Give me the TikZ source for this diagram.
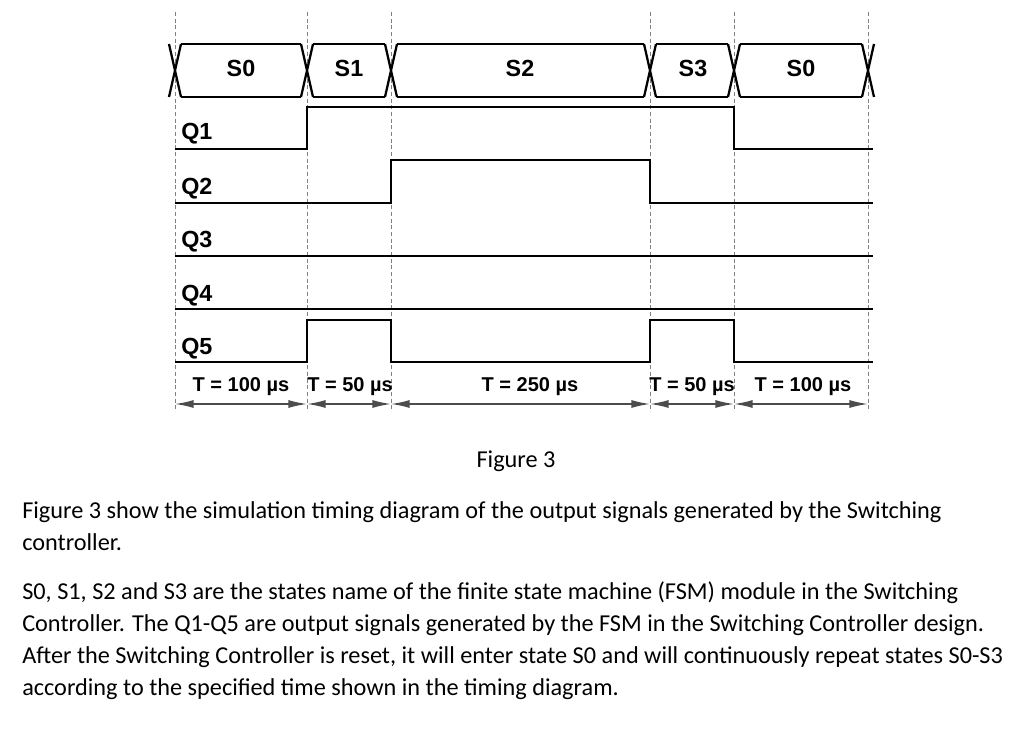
\documentclass[tikz,border=0pt]{standalone}
\usepackage{fontspec}
\setmainfont{Carlito}
\newfontfamily\arialf{Liberation Sans}
\usetikzlibrary{arrows.meta}
\begin{document}
\begin{tikzpicture}[x=0.75pt,y=-0.75pt,
  sig/.style={line width=1.9pt},
  grid/.style={dashed,gray,line width=0.4pt,dash pattern=on 3pt off 2pt},
  lbl/.style={font=\arialf\bfseries\fontsize{17.5}{19}\selectfont,inner sep=0},
  tlbl/.style={font=\arialf\bfseries\fontsize{15}{17}\selectfont,inner sep=0},
  dim/.style={black!70,line width=1.1pt,{Latex[length=14pt,width=6pt]}-{Latex[length=14pt,width=6pt]}},
  body/.style={font=\fontsize{18.2}{21}\selectfont,inner sep=0,anchor=base west}]
\useasboundingbox (0,0) rectangle (1021,734);
% grid
\foreach \b in {175,307,391,650,734,868}{\draw[grid] (\b,12) -- (\b,412);}
% bus
\foreach \b in {175,307,391,650,734,868}{
  \draw[line width=1.7pt] (\b-6,44) -- (\b+6,97) (\b-6,97) -- (\b+6,44);}
\foreach \a/\c in {175/307,307/391,391/650,650/734,734/868}{
  \draw[line width=1.7pt] (\a+6,44) -- (\c-6,44) (\a+6,97) -- (\c-6,97);}
\node[lbl] (s0a) at (241,68) {S0};
\node[lbl] (s1) at (349,68) {S1};
\node[lbl] (s2) at (520,68) {S2};
\node[lbl] (s3) at (693,68) {S3};
\node[lbl] (s0b) at (801,68) {S0};
% signals
\draw[sig] (175,149) -- (307,149) -- (307,107) -- (734,107) -- (734,149) -- (873,149);
\draw[sig] (175,203) -- (391,203) -- (391,160) -- (650,160) -- (650,203) -- (873,203);
\draw[sig] (175,256) -- (873,256);
\draw[sig] (175,309) -- (873,309);
\draw[sig] (175,362) -- (307,362) -- (307,320) -- (391,320) -- (391,362) -- (650,362) -- (650,320) -- (734,320) -- (734,362) -- (873,362);
\node[lbl,anchor=west] (q1) at (181,134) {Q1};
\node[lbl,anchor=west] (q2) at (181,189) {Q2};
\node[lbl,anchor=west] (q3) at (181,242) {Q3};
\node[lbl,anchor=west] (q4) at (181,296) {Q4};
\node[lbl,anchor=west] (q5) at (181,349) {Q5};
% durations
\coordinate (d0) at (175,404); \coordinate (d1) at (307,404); \coordinate (d2) at (391,404);
\coordinate (d3) at (650,404); \coordinate (d4) at (734,404); \coordinate (d5) at (868,404);
\draw[dim] (d0) -- (d1); \draw[dim] (d1) -- (d2); \draw[dim] (d2) -- (d3);
\draw[dim] (d3) -- (d4); \draw[dim] (d4) -- (d5);
\node[tlbl] (t1) at (241,387) {T = 100 µs};
\node[tlbl] (t2) at (350,387) {T = 50 µs};
\node[tlbl] (t3) at (530,387) {T = 250 µs};
\node[tlbl] (t4) at (692,387) {T = 50 µs};
\node[tlbl] (t5) at (803,387) {T = 100 µs};
% text
\node[font=\fontsize{18.2}{21}\selectfont,inner sep=0] (fig) at (516,461) {Figure 3};
\node[body] (p1) at (22,518) {Figure 3 show the simulation timing diagram of the output signals generated by the Switching};
\node[body] (p2) at (22,550) {controller.};
\node[body] (p3) at (22,599) {S0, S1, S2 and S3 are the states name of the finite state machine (FSM) module in the Switching};
\node[body] (p4) at (22,631) {Controller. The Q1-Q5 are output signals generated by the FSM in the Switching Controller design.};
\node[body] (p5) at (22,663) {After the Switching Controller is reset, it will enter state S0 and will continuously repeat states S0-S3};
\node[body] (p6) at (22,695) {according to the specified time shown in the timing diagram.};
\end{tikzpicture}
\end{document}
